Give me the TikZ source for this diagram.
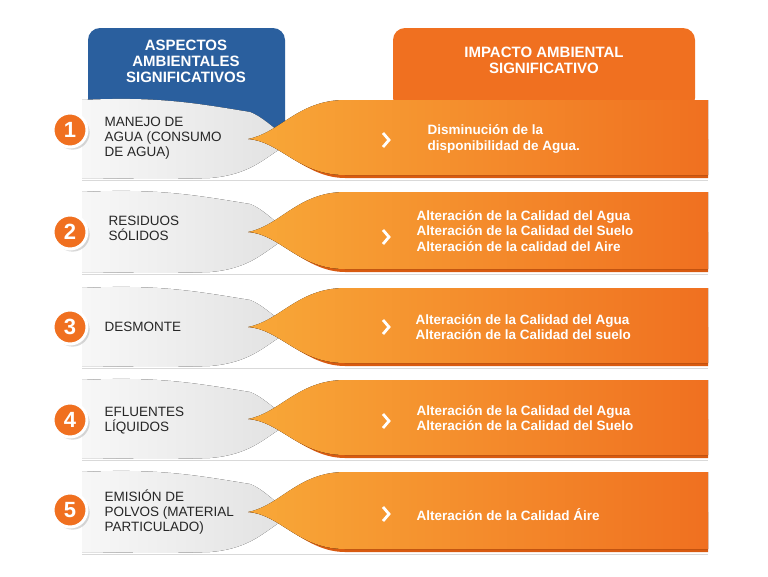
\documentclass[tikz,border=0pt]{standalone}
\usepackage{fontspec}
\setmainfont{Liberation Sans}
\usetikzlibrary{shadows}
\definecolor{blu}{HTML}{2A5F9E}
\definecolor{org}{HTML}{F07020}
\definecolor{orgl}{HTML}{F8A838}
\definecolor{orgd}{HTML}{D85A10}
\begin{document}
\begin{tikzpicture}[x=1pt,y=-1pt,
  hdr/.style={text=white,font=\fontsize{15}{16}\selectfont\bfseries,align=center},
  lbl/.style={anchor=west,align=left,font=\fontsize{13.5}{15}\selectfont,text=black!85},
  imp/.style={anchor=west,align=left,font=\fontsize{13.5}{15.5}\selectfont\bfseries,text=white},
  num/.style={circle,draw=white,line width=3pt,fill=org,minimum size=34pt,inner sep=0pt,text=white,font=\fontsize{22}{22}\selectfont\bfseries,drop shadow={opacity=0.3}},
  chev/.style={draw=white,line width=2.8pt}]
\useasboundingbox (0,0) rectangle (768,576);
\fill[white] (0,0) rectangle (768,576);
% headers
\fill[blu,rounded corners=12pt] (88,28) -- (285,28) -- (285,140) -- (88,140) -- cycle;
\fill[org,rounded corners=12pt] (393,28) -- (695,28) -- (695,110) -- (393,110) -- cycle;
\node[hdr] (h1) at (186,61) {ASPECTOS\\AMBIENTALES\\SIGNIFICATIVOS};
\node[hdr] (h2) at (544,60) {IMPACTO AMBIENTAL\\SIGNIFICATIVO};
% rows
\foreach \t/\b in {100/178,192/272,288/366,380/458,472/552}{
  \pgfmathsetmacro{\m}{(\t+\b)/2}
  \fill[left color=black!3,right color=black!12] (82,\t) .. controls (160,\t-4) and (200,\t+4) .. (250,\t+12) .. controls (270,\t+20) and (280,\m) .. (300,\m) .. controls (270,\m+10) and (260,\b-4) .. (210,\b) .. controls (150,\b+2) and (110,\b) .. (82,\b) -- cycle;
  \fill[orgd] (248,\m) .. controls (280,\m+2) and (305,\b) .. (345,\b) -- (708,\b) -- (708,\m) -- cycle;
  \fill[left color=orgl,right color=org] (248,\m) .. controls (280,\m-6) and (298,\t) .. (345,\t) -- (708,\t) -- (708,\b-3) -- (345,\b-3) .. controls (298,\b-3) and (280,\m+2) .. (248,\m) -- cycle;
  \draw[black!15,line width=1pt] (82,\b+2) -- (708,\b+2);
}
\node[num] (n1) at (70,130) {1};
\node[num] (n2) at (70,232) {2};
\node[num] (n3) at (70,327) {3};
\node[num] (n4) at (70,420) {4};
\node[num] (n5) at (70,510) {5};
\node[lbl] (a1) at (101,138) {MANEJO DE\\AGUA (CONSUMO\\DE AGUA)};
\node[lbl] (a2) at (105,228) {RESIDUOS\\SÓLIDOS};
\node[lbl] (a3) at (101,327) {DESMONTE};
\node[lbl] (a4) at (101,421) {EFLUENTES\\LÍQUIDOS};
\node[lbl] (a5) at (101,512) {EMISIÓN DE\\POLVOS (MATERIAL\\PARTICULADO)};
\foreach \y/\n in {140/c1,237/c2,327/c3,421/c4,514/c5}{
  \coordinate (\n) at (386,\y);
  \draw[chev] ([xshift=-3pt,yshift=-7pt]\n) -- ([xshift=3pt]\n) -- ([xshift=-3pt,yshift=7pt]\n);}
\node[imp] (b1) at (424,139) {Disminución de la\\disponibilidad de Agua.};
\node[imp] (b2) at (413,231) {Alteración de la Calidad del Agua\\Alteración de la Calidad del Suelo\\Alteración de la calidad del Aire};
\node[imp] (b3) at (412,327) {Alteración de la Calidad del Agua\\Alteración de la Calidad del suelo};
\node[imp] (b4) at (413,418) {Alteración de la Calidad del Agua\\Alteración de la Calidad del Suelo};
\node[imp] (b5) at (413,515) {Alteración de la Calidad Áire};
\end{tikzpicture}
\end{document}
